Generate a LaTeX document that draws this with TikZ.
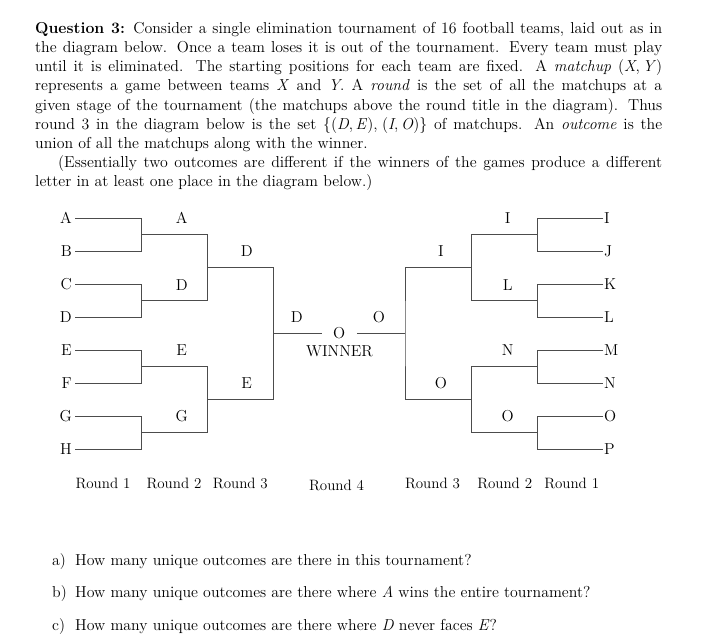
\documentclass[tikz,border=0pt]{standalone}
\usepackage{fontspec}
\setmainfont{lmroman12-regular.otf}[BoldFont=lmroman12-bold.otf, ItalicFont=lmroman12-italic.otf]
\tikzset{
  br/.style={draw=black!70, line width=0.9pt},
  lt/.style={font=\fontsize{15.85}{19.2}\selectfont},
  teamL/.style={lt, anchor=east, inner sep=3pt},
  teamR/.style={lt, anchor=west, inner sep=0.5pt},
  lab/.style={lt, inner sep=0pt},
  roundlab/.style={font=\fontsize{15}{18}\selectfont, inner sep=0pt},
  question/.style={lt, anchor=west, inner sep=0pt}
}
\newcommand{\mv}[1]{\textit{#1}}
\begin{document}
\begin{tikzpicture}[x=1pt, y=-1pt]
\useasboundingbox (0,0) rectangle (713,641);
\fill[white] (0,0) rectangle (713,641);

% question text
\node[lt, anchor=north west, inner sep=0pt, text width=627pt, align=justify] (para) at (35,22) {%
\noindent\textbf{Question 3:} Consider a single elimination tournament of 16 football teams, laid out as in\linebreak
the diagram below. Once a team loses it is out of the tournament. Every team must play\linebreak
until it is eliminated. The starting positions for each team are fixed. A \emph{matchup} (\mv{X},\,\mv{Y})\linebreak
represents a game between teams \mv{X} and \mv{Y}. A \emph{round} is the set of all the matchups at a\linebreak
given stage of the tournament (the matchups above the round title in the diagram). Thus\linebreak
round 3 in the diagram below is the set \{(\mv{D},\,\mv{E}),\;(\mv{I},\,\mv{O})\} of matchups. An \emph{outcome} is the\linebreak
union of all the matchups along with the winner.\par
\noindent\hspace*{23pt}(Essentially two outcomes are different if the winners of the games produce a different\linebreak
letter in at least one place in the diagram below.)};

% left teams
\node[teamL] (tA) at (75,218.3) {A};
\node[teamL] (tB) at (75,251.3) {B};
\node[teamL] (tC) at (75,284.3) {C};
\node[teamL] (tD) at (75,317.3) {D};
\node[teamL] (tE) at (75,350.3) {E};
\node[teamL] (tF) at (75,383.3) {F};
\node[teamL] (tG) at (75,416.3) {G};
\node[teamL] (tH) at (75,449.3) {H};
% right teams
\node[teamR] (tI) at (603.3,218.3) {I};
\node[teamR] (tJ) at (603.3,251.3) {J};
\node[teamR] (tK) at (603.3,284.3) {K};
\node[teamR] (tL) at (603.3,317.3) {L};
\node[teamR] (tM) at (603.3,350.3) {M};
\node[teamR] (tN) at (603.3,383.3) {N};
\node[teamR] (tO) at (603.3,416.3) {O};
\node[teamR] (tP) at (603.3,449.3) {P};

% junctions
\coordinate (jAB) at (141.7,234.8);
\coordinate (jCD) at (141.7,300.8);
\coordinate (jEF) at (141.7,366.8);
\coordinate (jGH) at (141.7,432.8);
\coordinate (jAD) at (207.7,267.8);
\coordinate (jEG) at (207.7,399.8);
\coordinate (jLf) at (273.3,333.8);
\coordinate (jIJ) at (537.7,234.8);
\coordinate (jKL) at (537.7,300.8);
\coordinate (jMN) at (537.7,366.8);
\coordinate (jOP) at (537.7,432.8);
\coordinate (jIL) at (471.7,267.8);
\coordinate (jNO) at (471.7,399.8);
\coordinate (jRf) at (405,333.8);

% winner
\node[lab, minimum width=35pt] (win) at (339.2,332.8) {O};
\node[lab] (wintxt) at (339.5,351) {WINNER};

% left bracket
\draw[br] (tA.east) -| (jAB) |- (tB.east);
\draw[br] (tC.east) -| (jCD) |- (tD.east);
\draw[br] (tE.east) -| (jEF) |- (tF.east);
\draw[br] (tG.east) -| (jGH) |- (tH.east);
\draw[br] (jAB) -| (jAD) |- (jCD);
\draw[br] (jEF) -| (jEG) |- (jGH);
\draw[br] (jAD) -| (jLf) |- (jEG);
\draw[br] (jLf) -- (jLf -| win.west);
% right bracket
\draw[br] (tI.west) -| (jIJ) |- (tJ.west);
\draw[br] (tK.west) -| (jKL) |- (tL.west);
\draw[br] (tM.west) -| (jMN) |- (tN.west);
\draw[br] (tO.west) -| (jOP) |- (tP.west);
\draw[br] (jIJ) -| (jIL) |- (jKL);
\draw[br] (jMN) -| (jNO) |- (jOP);
\draw[br] (jIL) -| (jRf) |- (jNO);
\draw[br] (jRf -| win.east) -- (jRf);

% round winners, left
\node[lab] (r2A) at (181.7,218.3) {A};
\node[lab] (r2D) at (181.7,285.3) {D};
\node[lab] (r2E) at (181.7,350.3) {E};
\node[lab] (r2G) at (181.7,416.3) {G};
\node[lab] (r3D) at (246.7,251.3) {D};
\node[lab] (r3E) at (246.7,383.3) {E};
\node[lab] (r4D) at (296.7,317.3) {D};
% round winners, right
\node[lab] (r4O) at (379,317.3) {O};
\node[lab] (r3I) at (441,251.3) {I};
\node[lab] (r3O) at (441,383.3) {O};
\node[lab] (r2I) at (507.7,218.3) {I};
\node[lab] (r2L) at (507.7,285.3) {L};
\node[lab] (r2N) at (507.7,350.3) {N};
\node[lab] (r2O) at (507.7,416.3) {O};

% round titles
\node[roundlab] (rt1) at (103,483) {Round 1};
\node[roundlab] (rt2) at (174,483) {Round 2};
\node[roundlab] (rt3) at (240.4,483) {Round 3};
\node[roundlab] (rt4) at (336.6,485) {Round 4};
\node[roundlab] (rt5) at (432.5,483) {Round 3};
\node[roundlab] (rt6) at (504.7,483) {Round 2};
\node[roundlab] (rt7) at (571.7,483) {Round 1};

% questions
\node[question] (qa) at (52,561.5) {\makebox[23pt][l]{a)}How many unique outcomes are there in this tournament?};
\node[question] (qb) at (52,594) {\makebox[23pt][l]{b)}How many unique outcomes are there where \mv{A} wins the entire tournament?};
\node[question] (qc) at (52,626.5) {\makebox[23pt][l]{c)}How many unique outcomes are there where \mv{D} never faces \mv{E}?};
\end{tikzpicture}
\end{document}
